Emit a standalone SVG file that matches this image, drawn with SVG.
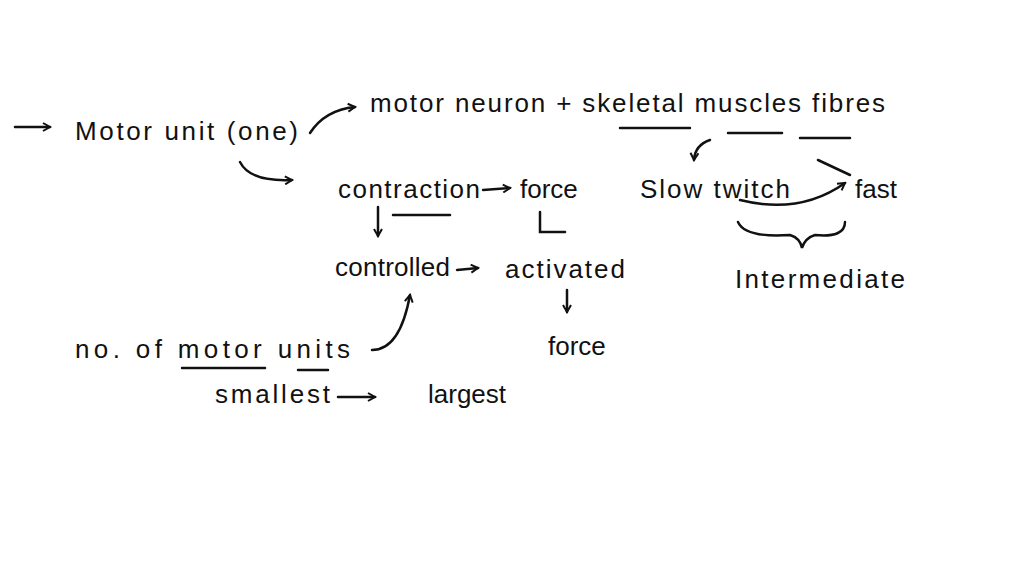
<svg xmlns="http://www.w3.org/2000/svg" width="1024" height="576" viewBox="0 0 1024 576">
<defs>
<marker id="a" markerWidth="10" markerHeight="10" refX="8" refY="5" orient="auto" markerUnits="userSpaceOnUse"><path d="M1,1 L8,5 L1,9" fill="none" stroke="#111" stroke-width="2"/></marker>
</defs>
<style>
text{font-family:"Liberation Sans",sans-serif;font-size:26px;fill:#111}
.l{fill:none;stroke:#111;stroke-width:2.5;stroke-linecap:round}
</style>
<rect width="1024" height="576" fill="#fff"/>
<g id="n1"><text x="75" y="140" textLength="223" lengthAdjust="spacing">Motor unit (one)</text></g>
<g id="n2"><text x="370" y="112" textLength="515" lengthAdjust="spacing">motor neuron + skeletal muscles fibres</text></g>
<g id="n3"><text x="338" y="198" textLength="142" lengthAdjust="spacing">contraction</text></g>
<g id="n4"><text x="520" y="198">force</text></g>
<g id="n5"><text x="640" y="198" textLength="150" lengthAdjust="spacing">Slow twitch</text></g>
<g id="n6"><text x="855" y="198">fast</text></g>
<g id="n7"><text x="735" y="288" textLength="170" lengthAdjust="spacing">Intermediate</text></g>
<g id="n8"><text x="335" y="276" textLength="115" lengthAdjust="spacing">controlled</text></g>
<g id="n9"><text x="505" y="278" textLength="120" lengthAdjust="spacing">activated</text></g>
<g id="n10"><text x="548" y="355">force</text></g>
<g id="n11"><text x="75" y="358" textLength="275" lengthAdjust="spacing">no. of motor units</text></g>
<g id="n12"><text x="215" y="403" textLength="115" lengthAdjust="spacing">smallest</text></g>
<g id="n13"><text x="428" y="403">largest</text></g>
<g id="connectors">
<path class="l" d="M15,127 L50,127" marker-end="url(#a)"/>
<path class="l" d="M310,133 Q325,110 355,107" marker-end="url(#a)"/>
<path class="l" d="M240,162 Q250,182 292,180" marker-end="url(#a)"/>
<path class="l" d="M483,190 L510,188" marker-end="url(#a)"/>
<path class="l" d="M378,207 L378,236" marker-end="url(#a)"/>
<path class="l" d="M393,215 L450,215"/>
<path class="l" d="M540,212 L540,232 L565,232"/>
<path class="l" d="M457,270 L478,268" marker-end="url(#a)"/>
<path class="l" d="M567,290 L567,312" marker-end="url(#a)"/>
<path class="l" d="M372,350 Q400,350 410,295" marker-end="url(#a)"/>
<path class="l" d="M338,397 L375,397" marker-end="url(#a)"/>
<path class="l" d="M710,140 Q695,145 694,160" marker-end="url(#a)"/>
<path class="l" d="M818,160 L850,175"/>
<path class="l" d="M740,200 Q800,215 845,183" marker-end="url(#a)"/>
<path class="l" d="M738,222 Q745,238 790,235 Q800,238 802,248 Q805,238 815,235 Q845,238 845,222"/>
<path class="l" d="M620,128 L690,128 M728,133 L782,133 M800,138 L850,138"/>
<path class="l" d="M182,368 L265,368 M298,370 L328,370"/>
</g>
</svg>
